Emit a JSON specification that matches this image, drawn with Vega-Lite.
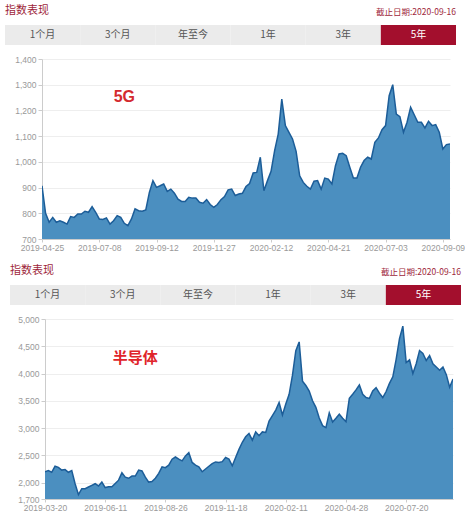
{
  "$schema": "https://vega.github.io/schema/vega-lite/v6.json",
  "padding": {"left": 5, "top": 5, "right": 0, "bottom": 0},
  "background": "white",
  "config": {
    "view": {"stroke": null},
    "font": "Liberation Sans",
    "axis": {"labelFont": "Liberation Sans", "labelFontSize": 8.5, "labelColor": "#999999", "tickColor": "#cccccc", "domainColor": "#cccccc", "tickSize": 4, "gridColor": "#eeeeee", "labelPadding": 2},
    "axisX": {"tickSize": 3, "labelPadding": 1}
  },
  "datasets": {
    "tabs": [
      {"tab": "1个月", "state": "off"}, {"tab": "3个月", "state": "off"}, {"tab": "年至今", "state": "off"},
      {"tab": "1年", "state": "off"}, {"tab": "3年", "state": "off"}, {"tab": "5年", "state": "on"}
    ],
    "g5": [
      {"d":"2019-04-25","v":907},{"d":"2019-04-30","v":800},{"d":"2019-05-08","v":765},{"d":"2019-05-13","v":784},
      {"d":"2019-05-16","v":765},{"d":"2019-05-21","v":771},{"d":"2019-05-24","v":765},{"d":"2019-05-29","v":758},
      {"d":"2019-06-03","v":787},{"d":"2019-06-06","v":784},{"d":"2019-06-12","v":797},{"d":"2019-06-17","v":797},
      {"d":"2019-06-20","v":808},{"d":"2019-06-25","v":804},{"d":"2019-06-28","v":826},{"d":"2019-07-03","v":804},
      {"d":"2019-07-08","v":778},{"d":"2019-07-11","v":776},{"d":"2019-07-16","v":782},{"d":"2019-07-19","v":758},
      {"d":"2019-07-24","v":771},{"d":"2019-07-29","v":791},{"d":"2019-08-01","v":784},{"d":"2019-08-06","v":761},
      {"d":"2019-08-09","v":752},{"d":"2019-08-14","v":778},{"d":"2019-08-19","v":817},{"d":"2019-08-22","v":810},
      {"d":"2019-08-27","v":808},{"d":"2019-08-30","v":813},{"d":"2019-09-04","v":881},{"d":"2019-09-09","v":927},
      {"d":"2019-09-12","v":901},{"d":"2019-09-18","v":907},{"d":"2019-09-23","v":914},{"d":"2019-09-26","v":885},
      {"d":"2019-10-08","v":894},{"d":"2019-10-11","v":878},{"d":"2019-10-16","v":855},{"d":"2019-10-21","v":846},
      {"d":"2019-10-24","v":846},{"d":"2019-10-29","v":862},{"d":"2019-11-01","v":859},{"d":"2019-11-06","v":859},
      {"d":"2019-11-11","v":843},{"d":"2019-11-14","v":839},{"d":"2019-11-19","v":853},{"d":"2019-11-22","v":834},
      {"d":"2019-11-27","v":823},{"d":"2019-12-02","v":834},{"d":"2019-12-05","v":853},{"d":"2019-12-10","v":865},
      {"d":"2019-12-13","v":891},{"d":"2019-12-18","v":894},{"d":"2019-12-23","v":869},{"d":"2019-12-26","v":875},
      {"d":"2019-12-31","v":878},{"d":"2020-01-06","v":904},{"d":"2020-01-09","v":916},{"d":"2020-01-14","v":957},
      {"d":"2020-01-17","v":959},{"d":"2020-01-22","v":1018},{"d":"2020-02-04","v":888},{"d":"2020-02-07","v":927},
      {"d":"2020-02-12","v":963},{"d":"2020-02-17","v":1044},{"d":"2020-02-20","v":1108},{"d":"2020-02-25","v":1244},
      {"d":"2020-02-28","v":1141},{"d":"2020-03-04","v":1115},{"d":"2020-03-09","v":1089},{"d":"2020-03-12","v":1041},
      {"d":"2020-03-17","v":946},{"d":"2020-03-20","v":920},{"d":"2020-03-25","v":905},{"d":"2020-03-30","v":894},
      {"d":"2020-04-02","v":925},{"d":"2020-04-08","v":927},{"d":"2020-04-13","v":894},{"d":"2020-04-16","v":937},
      {"d":"2020-04-21","v":933},{"d":"2020-04-24","v":914},{"d":"2020-04-29","v":985},{"d":"2020-05-07","v":1031},
      {"d":"2020-05-12","v":1033},{"d":"2020-05-15","v":1024},{"d":"2020-05-20","v":979},{"d":"2020-05-25","v":937},
      {"d":"2020-05-28","v":937},{"d":"2020-06-02","v":979},{"d":"2020-06-05","v":1005},{"d":"2020-06-10","v":1018},
      {"d":"2020-06-15","v":1011},{"d":"2020-06-18","v":1076},{"d":"2020-06-23","v":1093},{"d":"2020-06-30","v":1125},
      {"d":"2020-07-03","v":1141},{"d":"2020-07-08","v":1257},{"d":"2020-07-13","v":1300},{"d":"2020-07-16","v":1186},
      {"d":"2020-07-21","v":1176},{"d":"2020-07-24","v":1115},{"d":"2020-07-29","v":1154},{"d":"2020-08-03","v":1212},
      {"d":"2020-08-06","v":1183},{"d":"2020-08-11","v":1154},{"d":"2020-08-14","v":1154},{"d":"2020-08-19","v":1132},
      {"d":"2020-08-24","v":1158},{"d":"2020-08-27","v":1141},{"d":"2020-09-01","v":1145},{"d":"2020-09-04","v":1115},
      {"d":"2020-09-09","v":1050},{"d":"2020-09-14","v":1067},{"d":"2020-09-16","v":1069}
    ],
    "semi": [
      {"d":"2019-03-20","v":2200},{"d":"2019-03-25","v":2220},{"d":"2019-03-28","v":2190},{"d":"2019-04-02","v":2300},
      {"d":"2019-04-08","v":2280},{"d":"2019-04-11","v":2230},{"d":"2019-04-16","v":2240},{"d":"2019-04-19","v":2190},
      {"d":"2019-04-24","v":2220},{"d":"2019-04-29","v":1980},{"d":"2019-05-07","v":1780},{"d":"2019-05-10","v":1890},
      {"d":"2019-05-15","v":1890},{"d":"2019-05-20","v":1920},{"d":"2019-05-23","v":1950},{"d":"2019-05-28","v":1980},
      {"d":"2019-05-31","v":1940},{"d":"2019-06-05","v":2010},{"d":"2019-06-11","v":1910},{"d":"2019-06-14","v":1925},
      {"d":"2019-06-19","v":1925},{"d":"2019-06-24","v":1985},{"d":"2019-06-27","v":2045},{"d":"2019-07-02","v":2180},
      {"d":"2019-07-05","v":2100},{"d":"2019-07-10","v":2080},{"d":"2019-07-15","v":2120},{"d":"2019-07-18","v":2120},
      {"d":"2019-07-23","v":2230},{"d":"2019-07-26","v":2215},{"d":"2019-07-31","v":2100},{"d":"2019-08-05","v":2010},
      {"d":"2019-08-08","v":2020},{"d":"2019-08-13","v":2080},{"d":"2019-08-16","v":2170},{"d":"2019-08-21","v":2290},
      {"d":"2019-08-26","v":2275},{"d":"2019-08-29","v":2320},{"d":"2019-09-03","v":2430},{"d":"2019-09-06","v":2470},
      {"d":"2019-09-11","v":2430},{"d":"2019-09-17","v":2400},{"d":"2019-09-20","v":2490},{"d":"2019-09-25","v":2550},
      {"d":"2019-09-30","v":2370},{"d":"2019-10-10","v":2320},{"d":"2019-10-15","v":2290},{"d":"2019-10-18","v":2200},
      {"d":"2019-10-23","v":2250},{"d":"2019-10-28","v":2300},{"d":"2019-10-31","v":2350},{"d":"2019-11-05","v":2380},
      {"d":"2019-11-08","v":2370},{"d":"2019-11-13","v":2385},{"d":"2019-11-18","v":2460},{"d":"2019-11-21","v":2430},
      {"d":"2019-11-26","v":2310},{"d":"2019-11-29","v":2460},{"d":"2019-12-04","v":2610},{"d":"2019-12-09","v":2740},
      {"d":"2019-12-12","v":2840},{"d":"2019-12-17","v":2900},{"d":"2019-12-20","v":2780},{"d":"2019-12-25","v":2930},
      {"d":"2019-12-30","v":2860},{"d":"2020-01-03","v":2930},{"d":"2020-01-08","v":2920},{"d":"2020-01-13","v":3130},
      {"d":"2020-01-16","v":3230},{"d":"2020-01-21","v":3330},{"d":"2020-02-03","v":3470},{"d":"2020-02-06","v":3240},
      {"d":"2020-02-11","v":3440},{"d":"2020-02-14","v":3620},{"d":"2020-02-19","v":3970},{"d":"2020-02-24","v":4420},
      {"d":"2020-02-27","v":4580},{"d":"2020-03-03","v":3860},{"d":"2020-03-06","v":3780},{"d":"2020-03-11","v":3680},
      {"d":"2020-03-16","v":3500},{"d":"2020-03-19","v":3380},{"d":"2020-03-24","v":3185},{"d":"2020-03-27","v":3045},
      {"d":"2020-04-01","v":3010},{"d":"2020-04-07","v":3280},{"d":"2020-04-10","v":3110},{"d":"2020-04-15","v":3180},
      {"d":"2020-04-20","v":3255},{"d":"2020-04-23","v":3180},{"d":"2020-04-28","v":3118},{"d":"2020-05-06","v":3546},
      {"d":"2020-05-11","v":3620},{"d":"2020-05-14","v":3700},{"d":"2020-05-19","v":3790},{"d":"2020-05-22","v":3620},
      {"d":"2020-05-27","v":3560},{"d":"2020-06-01","v":3545},{"d":"2020-06-04","v":3680},{"d":"2020-06-09","v":3740},
      {"d":"2020-06-12","v":3640},{"d":"2020-06-17","v":3560},{"d":"2020-06-22","v":3670},{"d":"2020-06-29","v":3820},
      {"d":"2020-07-02","v":3940},{"d":"2020-07-07","v":4260},{"d":"2020-07-10","v":4640},{"d":"2020-07-15","v":4870},
      {"d":"2020-07-20","v":4200},{"d":"2020-07-23","v":4250},{"d":"2020-07-28","v":4000},{"d":"2020-07-31","v":4180},
      {"d":"2020-08-05","v":4420},{"d":"2020-08-10","v":4370},{"d":"2020-08-13","v":4240},{"d":"2020-08-18","v":4330},
      {"d":"2020-08-21","v":4180},{"d":"2020-08-26","v":4120},{"d":"2020-08-31","v":4060},{"d":"2020-09-03","v":4120},
      {"d":"2020-09-08","v":3980},{"d":"2020-09-11","v":3750},{"d":"2020-09-16","v":3900}
    ]
  },
  "spacing": 13,
  "vconcat": [
    {
      "spacing": 10,
      "vconcat": [
        {
          "width": 451, "height": 20,
          "data": {"name": "tabs"},
          "layer": [
            {"mark": {"type": "rect", "fill": "#ebebeb"},
             "encoding": {"x": {"field": "tab", "type": "nominal", "sort": null, "scale": {"domain": ["1个月","3个月","年至今","1年","3年","5年"], "paddingInner": 0, "paddingOuter": 0}, "axis": null}}},
            {"transform": [{"filter": "datum.state === 'on'"}],
             "mark": {"type": "rect", "fill": "#a30f2d"},
             "encoding": {"x": {"field": "tab", "type": "nominal", "sort": null, "scale": {"domain": ["1个月","3个月","年至今","1年","3年","5年"], "paddingInner": 0, "paddingOuter": 0}, "axis": null}}},
            {"mark": {"type": "text", "font": "Noto Sans CJK SC", "fontSize": 10},
             "encoding": {
               "x": {"field": "tab", "type": "nominal", "sort": null, "scale": {"domain": ["1个月","3个月","年至今","1年","3年","5年"], "paddingInner": 0, "paddingOuter": 0}, "axis": null},
               "text": {"field": "tab"},
               "color": {"condition": {"test": "datum.state === 'on'", "value": "#ffffff"}, "value": "#555555"}}},
            {"data": {"values": [{"tab": "1个月", "label": "指数表现"}]},
             "mark": {"type": "text", "align": "left", "dy": -24, "font": "Noto Sans CJK SC", "fontSize": 11, "color": "#9e1f3b"},
             "encoding": {"x": {"field": "tab", "type": "nominal", "bandPosition": 0, "scale": {"domain": ["1个月","3个月","年至今","1年","3年","5年"], "paddingInner": 0, "paddingOuter": 0}, "axis": null}, "text": {"field": "label"}}},
            {"data": {"values": [{"tab": "5年", "label": "截止日期:2020-09-16"}]},
             "mark": {"type": "text", "align": "right", "dy": -23, "font": "Noto Sans CJK SC", "fontSize": 8.5, "color": "#9e1f3b"},
             "encoding": {"x": {"field": "tab", "type": "nominal", "bandPosition": 1, "scale": {"domain": ["1个月","3个月","年至今","1年","3年","5年"], "paddingInner": 0, "paddingOuter": 0}, "axis": null}, "text": {"field": "label"}}}
          ]
        },
        {
          "spacing": 0,
          "hconcat": [
            {"width": 1, "height": 1, "data": {"values": []}, "mark": {"type": "text"}, "encoding": {}},
            {
              "width": 408, "height": 180,
              "data": {"name": "g5"},
              "layer": [
                {"mark": {"type": "area", "clip": true, "fill": "#4b8fc0", "opacity": 1, "fillOpacity": 1, "line": {"stroke": "#1c5d98", "strokeWidth": 1.5}},
                 "encoding": {
                   "x": {"field": "d", "type": "ordinal", "sort": null, "scale": {"type": "point", "padding": 0},
                         "axis": {"title": null, "values": ["2019-04-25","2019-07-08","2019-09-12","2019-11-27","2020-02-12","2020-04-21","2020-07-03","2020-09-09"], "labelAngle": 0, "labelOverlap": false, "grid": false}},
                   "y": {"field": "v", "type": "quantitative", "scale": {"domain": [700, 1400], "zero": false, "nice": false},
                         "axis": {"title": null, "values": [700,800,900,1000,1100,1200,1300,1400], "tickCount": 10, "format": ",d", "grid": true, "labelOverlap": false, "minExtent": 36, "maxExtent": 36}}
                 }},
                {"data": {"values": [{}]},
                 "mark": {"type": "text", "font": "Liberation Sans", "fontSize": 16, "fontWeight": "bold", "color": "#d42a2e"},
                 "encoding": {"x": {"datum": "2019-08-06", "type": "ordinal"}, "y": {"datum": 1254, "type": "quantitative"}, "text": {"value": "5G"}}}
              ]
            }
          ]
        }
      ]
    },
    {
      "spacing": 4,
      "hconcat": [
        {"width": 1, "height": 1, "data": {"values": []}, "mark": {"type": "text"}, "encoding": {}},
        {
          "spacing": 10,
          "vconcat": [
            {
              "width": 451, "height": 20,
              "data": {"name": "tabs"},
              "layer": [
                {"mark": {"type": "rect", "fill": "#ebebeb"},
                 "encoding": {"x": {"field": "tab", "type": "nominal", "sort": null, "scale": {"domain": ["1个月","3个月","年至今","1年","3年","5年"], "paddingInner": 0, "paddingOuter": 0}, "axis": null}}},
                {"transform": [{"filter": "datum.state === 'on'"}],
                 "mark": {"type": "rect", "fill": "#a30f2d"},
                 "encoding": {"x": {"field": "tab", "type": "nominal", "sort": null, "scale": {"domain": ["1个月","3个月","年至今","1年","3年","5年"], "paddingInner": 0, "paddingOuter": 0}, "axis": null}}},
                {"mark": {"type": "text", "font": "Noto Sans CJK SC", "fontSize": 10},
                 "encoding": {
                   "x": {"field": "tab", "type": "nominal", "sort": null, "scale": {"domain": ["1个月","3个月","年至今","1年","3年","5年"], "paddingInner": 0, "paddingOuter": 0}, "axis": null},
                   "text": {"field": "tab"},
                   "color": {"condition": {"test": "datum.state === 'on'", "value": "#ffffff"}, "value": "#555555"}}},
                {"data": {"values": [{"tab": "1个月", "label": "指数表现"}]},
                 "mark": {"type": "text", "align": "left", "dy": -24, "font": "Noto Sans CJK SC", "fontSize": 11, "color": "#9e1f3b"},
                 "encoding": {"x": {"field": "tab", "type": "nominal", "bandPosition": 0, "scale": {"domain": ["1个月","3个月","年至今","1年","3年","5年"], "paddingInner": 0, "paddingOuter": 0}, "axis": null}, "text": {"field": "label"}}},
                {"data": {"values": [{"tab": "5年", "label": "截止日期:2020-09-16"}]},
                 "mark": {"type": "text", "align": "right", "dy": -23, "font": "Noto Sans CJK SC", "fontSize": 8.5, "color": "#9e1f3b"},
                 "encoding": {"x": {"field": "tab", "type": "nominal", "bandPosition": 1, "scale": {"domain": ["1个月","3个月","年至今","1年","3年","5年"], "paddingInner": 0, "paddingOuter": 0}, "axis": null}, "text": {"field": "label"}}}
              ]
            },
            {
              "spacing": 0,
              "hconcat": [
                {"width": 1, "height": 1, "data": {"values": []}, "mark": {"type": "text"}, "encoding": {}},
                {
                  "width": 408, "height": 180,
                  "data": {"name": "semi"},
                  "layer": [
                    {"mark": {"type": "area", "clip": true, "fill": "#4b8fc0", "opacity": 1, "fillOpacity": 1, "line": {"stroke": "#1c5d98", "strokeWidth": 1.5}},
                     "encoding": {
                       "x": {"field": "d", "type": "ordinal", "sort": null, "scale": {"type": "point", "padding": 0},
                             "axis": {"title": null, "values": ["2019-03-20","2019-06-11","2019-08-26","2019-11-18","2020-02-11","2020-04-28","2020-07-20"], "labelAngle": 0, "labelOverlap": false, "grid": false}},
                       "y": {"field": "v", "type": "quantitative", "scale": {"domain": [1700, 5000], "zero": false, "nice": false},
                             "axis": {"title": null, "values": [1700,2000,2500,3000,3500,4000,4500,5000], "tickCount": 10, "format": ",d", "grid": true, "labelOverlap": false, "minExtent": 34, "maxExtent": 34}}
                     }},
                    {"data": {"values": [{}]},
                     "mark": {"type": "text", "font": "Noto Sans CJK SC", "fontSize": 15, "fontWeight": "bold", "color": "#e0242a"},
                     "encoding": {"x": {"datum": "2019-07-18", "type": "ordinal"}, "y": {"datum": 4290, "type": "quantitative"}, "text": {"value": "半导体"}}}
                  ]
                }
              ]
            }
          ]
        }
      ]
    }
  ]
}
